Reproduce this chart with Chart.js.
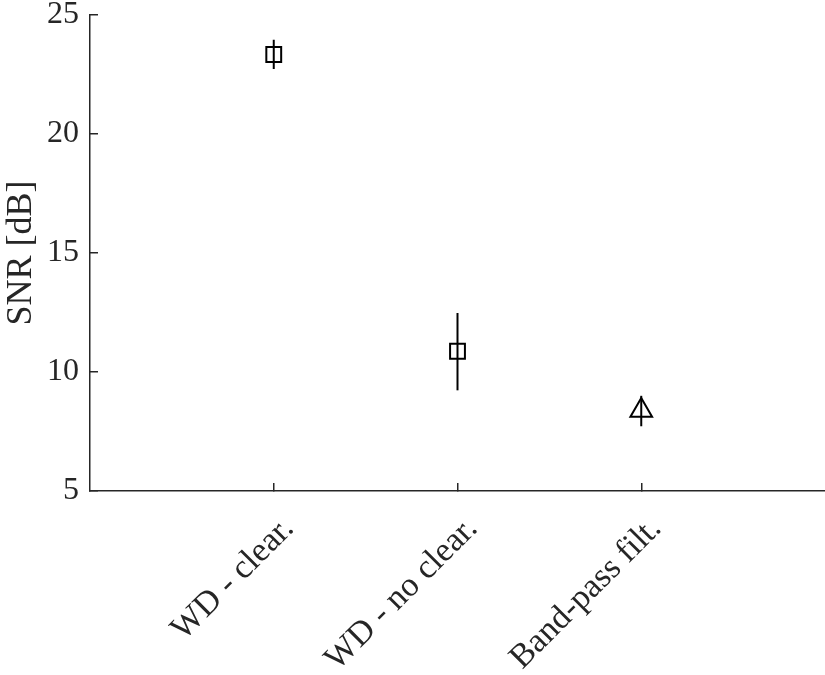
<!DOCTYPE html>
<html>
<head>
<meta charset="utf-8">
<script src="https://cdn.jsdelivr.net/npm/chart.js@4/dist/chart.umd.min.js"></script>
<style>
  html, body { margin: 0; padding: 0; background: #fff; }
  #wrap { width: 825px; height: 675px; }
</style>
</head>
<body>
<div id="wrap"><canvas id="snr" width="825" height="675"></canvas></div>
<script>
// data
const methods = ["WD - clear.", "WD - no clear.", "Band-pass filt."];
const snrMean = [23.34, 10.87, 8.38];
const snrLow = [22.73, 9.23, 7.72];
const snrHigh = [23.96, 12.48, 9.0];
const markers = ["rect", "rect", "triangle"];
const yTicks = [5, 10, 15, 20, 25];

const ink = "#262626";
const serif = "'Liberation Serif', 'Times New Roman', serif";

// one small line dataset per error bar
const errorSets = methods.map((m, i) => ({
  label: m + " range",
  data: [{ x: i + 1, y: snrLow[i] }, { x: i + 1, y: snrHigh[i] }],
  showLine: true,
  borderColor: "#000",
  borderWidth: 2,
  pointRadius: 0,
  fill: false
}));

// no auto padding, the layout is fixed by hand
function noPad(scale) {
  scale.paddingTop = 0;
  scale.paddingBottom = 0;
  scale.paddingLeft = 0;
  scale.paddingRight = 0;
}

const ctx = document.getElementById("snr");
const chart = new Chart(ctx, {
  type: "scatter",
  data: {
    datasets: [
      {
        label: "SNR",
        data: snrMean.map((v, i) => ({ x: i + 1, y: v })),
        pointStyle: markers,
        pointRadius: [10.5, 10.5, 12.5],
        pointHoverRadius: [10.5, 10.5, 12.5],
        backgroundColor: "rgba(0,0,0,0)",
        borderColor: "#000",
        borderWidth: 2
      },
      ...errorSets
    ]
  },
  options: {
    responsive: false,
    animation: false,
    devicePixelRatio: 1,
    layout: { autoPadding: false, padding: { top: 15, right: 0, bottom: 0, left: 0 } },
    plugins: {
      legend: { display: false },
      tooltip: { enabled: false }
    },
    scales: {
      x: {
        type: "linear",
        min: 0,
        max: 4,
        afterBuildTicks: (scale) => {
          scale.ticks = methods.map((m, i) => ({ value: i + 1 }));
        },
        afterFit: (scale) => { scale.height = 184; noPad(scale); },
        ticks: {
          callback: (v) => methods[v - 1] || "",
          minRotation: 45,
          maxRotation: 45,
          autoSkip: false,
          padding: 26,
          labelOffset: 15,
          color: ink,
          font: { family: serif, size: 34 }
        },
        grid: {
          drawOnChartArea: false,
          drawTicks: true,
          tickLength: -8,
          color: ink,
          lineWidth: 1.5
        },
        border: { display: true, color: ink, width: 1.5 }
      },
      y: {
        type: "linear",
        min: 5,
        max: 25,
        afterBuildTicks: (scale) => {
          scale.ticks = yTicks.map((v) => ({ value: v }));
        },
        afterFit: (scale) => { scale.width = 90; noPad(scale); },
        ticks: {
          padding: 19,
          color: ink,
          font: { family: serif, size: 32 }
        },
        grid: {
          drawOnChartArea: false,
          drawTicks: true,
          tickLength: -8,
          color: ink,
          lineWidth: 1.5
        },
        border: { display: true, color: ink, width: 1.5 },
        title: {
          display: true,
          text: "SNR [dB]",
          color: ink,
          padding: 0,
          font: { family: serif, size: 36 }
        }
      }
    }
  }
});
</script>
</body>
</html>
